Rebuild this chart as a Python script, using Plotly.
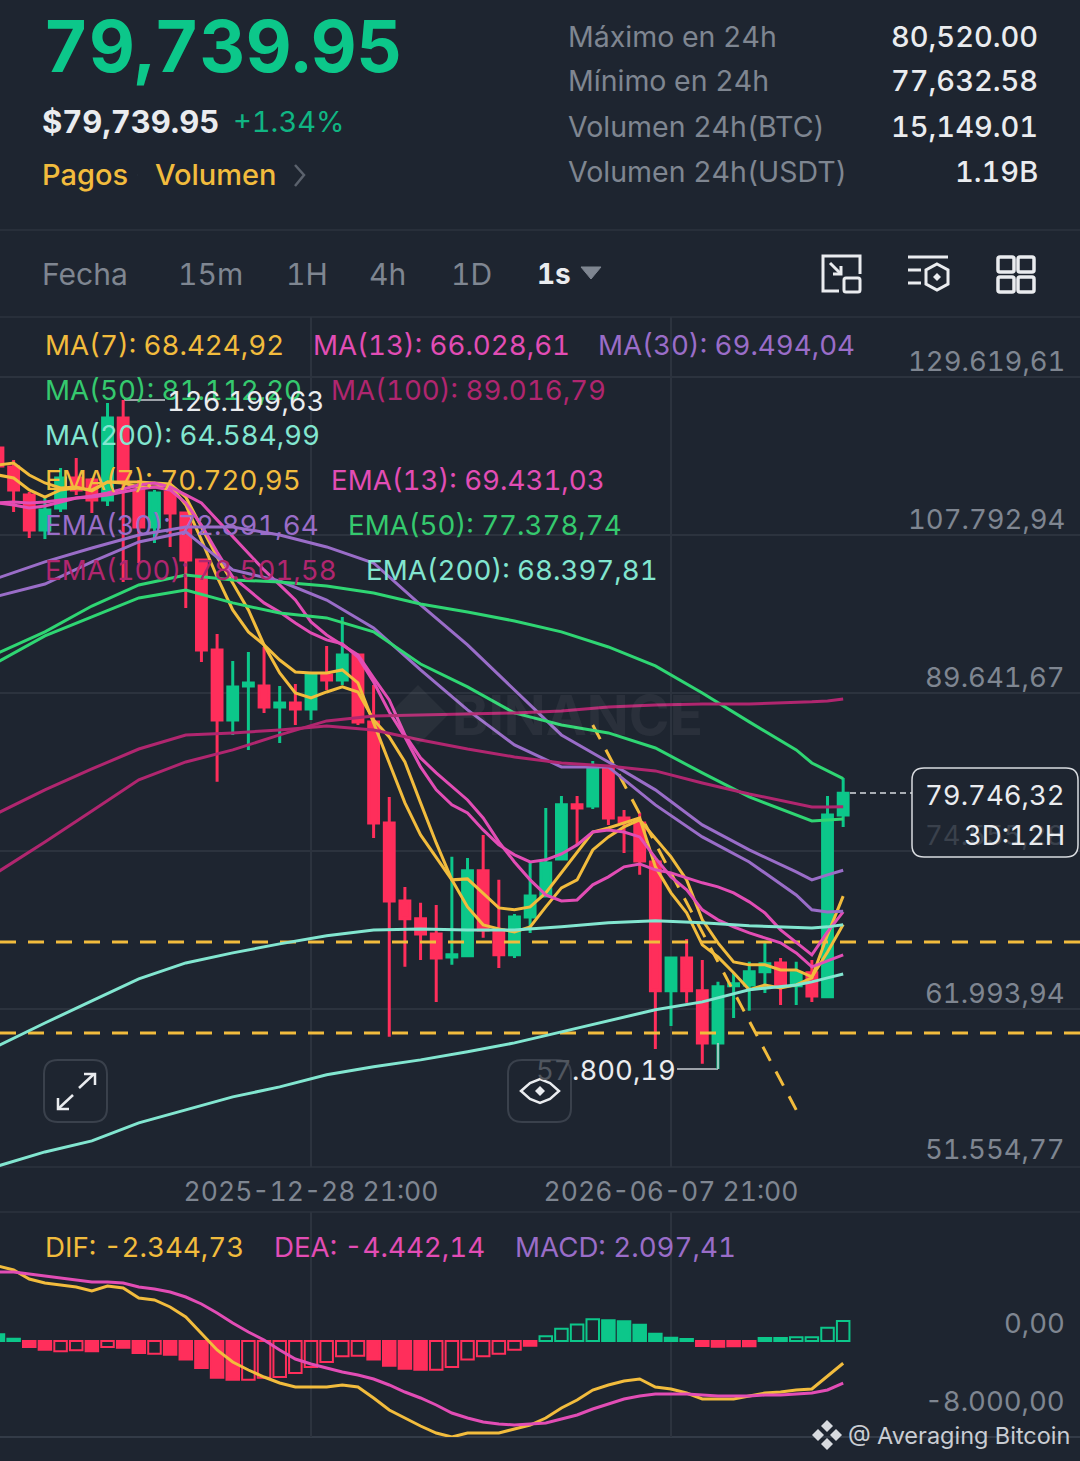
import math
import pandas as pd
import plotly.graph_objects as go

# Candle data, weekly, prices in thousands of USD
n_candles = 55
dates = pd.date_range(end="2026-08-23 21:00", periods=n_candles, freq="7D")

opens = [119.31, 116.70, 112.95, 108.43, 111.25, 115.21, 114.94, 112.29, 123.57, 113.61, 108.81, 113.35, 110.60, 104.70, 94.26,
         86.87, 90.38, 90.38, 88.20, 88.60, 87.99, 91.55, 91.02, 93.71, 86.67, 77.03, 70.33, 68.87, 67.67, 65.88,
         65.96, 72.84, 67.99, 66.04, 69.03, 70.74, 73.86, 78.67, 78.57, 82.23, 77.48, 77.03, 73.60, 63.32, 65.80,
         63.32, 59.59, 63.69, 63.76, 64.74, 65.42, 63.69, 64.67, 62.88, 77.75]
highs = [119.73, 117.66, 113.35, 112.68, 116.56, 117.93, 115.21, 125.75, 126.20, 114.94, 113.61, 114.94, 110.60, 104.70, 96.04,
         93.06, 94.04, 94.59, 90.38, 90.59, 91.77, 94.70, 97.96, 93.71, 90.49, 79.40, 71.49, 70.17, 70.00, 74.04,
         73.95, 75.96, 72.08, 69.27, 73.60, 78.39, 79.50, 79.50, 82.81, 82.42, 78.21, 77.93, 73.78, 65.80, 67.28,
         65.65, 63.99, 64.67, 65.50, 66.97, 65.80, 65.50, 65.65, 79.50, 81.18]
lows = [115.61, 110.73, 107.42, 107.30, 110.73, 112.95, 110.60, 111.51, 102.05, 104.33, 106.80, 106.30, 98.98, 92.95, 80.81,
        85.36, 83.88, 87.58, 84.57, 86.36, 86.87, 89.95, 90.49, 86.36, 75.69, 60.01, 65.12, 65.65, 62.51, 65.27,
        65.88, 67.36, 65.04, 65.80, 67.75, 70.66, 73.78, 75.08, 78.30, 76.85, 74.38, 72.50, 59.17, 60.78, 62.44,
        58.15, 57.80, 61.35, 61.86, 63.17, 62.29, 62.29, 62.51, 62.80, 76.67]
closes = [116.83, 113.61, 108.43, 110.99, 115.21, 113.61, 112.29, 123.57, 114.94, 108.81, 113.21, 110.60, 104.70, 94.26, 86.87,
          90.28, 90.70, 88.20, 88.60, 87.99, 91.55, 91.02, 93.71, 86.67, 77.03, 70.33, 68.87, 67.67, 65.80, 66.04,
          72.84, 67.99, 66.04, 69.03, 70.74, 73.52, 78.67, 78.39, 82.14, 77.48, 77.12, 73.69, 63.32, 65.80, 63.32,
          59.59, 63.62, 63.84, 64.74, 65.35, 63.69, 64.67, 62.95, 77.75, 79.746]

# Fast averages, one value per candle
ma7 = [116.97, 117.24, 115.61, 114.54, 113.88, 114.01, 113.48, 114.67, 114.67, 114.67, 114.54, 114.41, 112.68, 108.81, 105.07,
       101.92, 98.76, 94.81, 91.77, 89.64, 89.13, 89.75, 90.28, 89.75, 86.87, 85.16, 82.71, 78.85, 75.25, 72.08,
       69.84, 68.39, 68.07, 67.83, 68.23, 69.84, 71.41, 72.08, 74.64, 75.78, 76.67, 77.30, 75.69, 74.04, 72.08,
       68.79, 66.97, 65.50, 65.27, 65.27, 64.89, 64.89, 64.36, 66.26, 68.42]
ema7 = [115.61, 115.21, 113.61, 112.68, 113.61, 113.88, 113.61, 114.67, 114.54, 114.01, 114.01, 114.27, 111.64, 107.17, 102.64,
        98.76, 96.27, 94.81, 93.16, 91.87, 91.77, 91.77, 92.09, 90.70, 86.57, 82.61, 78.85, 75.96, 73.95, 72.08,
        72.16, 70.99, 69.76, 69.60, 69.84, 70.99, 72.67, 74.38, 76.22, 76.58, 77.03, 77.48, 73.18, 70.99, 69.35,
        66.81, 65.88, 64.67, 63.40, 63.76, 63.54, 63.76, 64.29, 67.60, 70.72]
ma13 = [111.90, 111.64, 111.25, 111.51, 112.03, 112.55, 112.68, 112.95, 113.35, 113.74, 114.01, 113.61, 111.90, 109.06, 105.68,
        102.64, 101.10, 99.58, 98.53, 97.28, 96.15, 95.37, 94.93, 93.49, 90.80, 87.68, 85.16, 82.23, 80.06, 78.67,
        77.93, 76.40, 75.08, 74.21, 73.60, 73.78, 74.29, 75.08, 76.22, 76.40, 76.22, 75.78, 73.95, 72.33, 71.24,
        69.60, 68.79, 68.23, 67.75, 67.36, 66.97, 66.19, 65.12, 65.57, 66.03]
ema13 = [111.90, 112.03, 111.90, 112.03, 112.29, 112.55, 112.81, 113.21, 113.74, 114.27, 114.54, 114.01, 112.95, 111.90, 109.71,
         107.55, 105.56, 103.49, 101.69, 99.92, 97.39, 95.92, 94.81, 93.71, 91.23, 88.92, 85.36, 83.10, 81.66, 80.34,
         79.12, 77.48, 75.34, 73.60, 72.08, 70.82, 70.33, 70.41, 71.66, 72.33, 73.18, 73.43, 72.93, 72.67, 72.25,
         71.83, 71.49, 70.99, 70.25, 69.35, 67.99, 66.97, 66.04, 67.83, 69.43]

# Slow averages, read every third candle and then the last few
slow_idx = [0, 3, 6, 9, 12, 15, 18, 21, 24, 27, 30, 33, 36, 39, 42, 45, 48, 51, 52, 53, 54]
ma30 = [100.39, 101.80, 104.46, 106.92, 108.18, 103.49, 102.16, 99.92, 96.72, 92.09, 87.89, 84.37, 82.23, 82.23, 78.67, 75.78, 73.60, 70.82, 69.60, 69.43, 69.49]
ema30 = [102.52, 104.46, 106.17, 107.80, 108.81, 108.81, 107.80, 106.30, 104.33, 99.34, 94.81, 89.95, 85.36, 82.71, 80.06, 76.85, 74.64, 72.75, 72.08, 72.50, 72.89]
ma50 = [93.93, 96.27, 99.22, 101.69, 102.88, 102.28, 102.05, 101.57, 100.74, 99.46, 98.53, 97.50, 96.27, 94.59, 92.52, 89.64, 86.67, 83.88, 82.61, 81.85, 81.11]
ema50 = [92.95, 95.81, 97.96, 100.16, 101.10, 99.58, 98.41, 97.85, 96.27, 92.73, 90.28, 87.58, 86.36, 85.56, 84.07, 81.66, 79.40, 77.75, 77.21, 77.30, 77.38]
ma100 = [72.75, 75.34, 78.12, 81.00, 82.71, 83.88, 85.36, 86.77, 87.27, 87.38, 87.48, 87.58, 87.79, 88.20, 88.40, 88.51, 88.51, 88.61, 88.72, 88.82, 89.02]
ema100 = [77.93, 80.06, 82.04, 83.97, 85.36, 85.56, 85.86, 86.26, 85.86, 84.86, 83.97, 83.20, 82.61, 82.33, 81.85, 80.71, 79.68, 78.76, 78.48, 78.48, 78.50]
ma200 = [51.62, 52.47, 53.15, 54.28, 55.11, 55.95, 56.61, 57.41, 57.95, 58.42, 58.97, 59.59, 60.36, 61.14, 61.94, 62.51, 63.40, 63.76, 63.99, 64.29, 64.58]
ema200 = [59.38, 60.99, 62.58, 64.21, 65.42, 66.19, 66.89, 67.52, 67.99, 68.07, 67.99, 67.99, 68.23, 68.55, 68.71, 68.55, 68.31, 68.23, 68.15, 68.23, 68.40]

# Hand drawn lines on the chart
support_levels = [67.04, 60.29]
trend_idx = [38, 51]
trend_prices = [86.36, 55.11]

# MACD panel
macd_hist = [700, 250, -630, -910, -1090, -980, -1090, -630, -700, -1260, -1330, -1440, -1960, -2840, -3860,
             -4070, -4070, -3860, -3790, -3370, -2740, -2210, -1610, -1540, -1960, -2600, -2910, -3020, -3020, -2740,
             -1960, -1610, -1330, -910, -490, 490, 1300, 1750, 2280, 2180, 2070, 1720, 770, 350, 210,
             -520, -600, -560, -560, 320, 320, 400, 400, 1400, 2097]
hist_hollow = [4, 5, 7, 10, 16, 17, 18, 19, 20, 21, 22, 23, 28, 29, 30, 31, 32, 33, 35, 36, 37, 38, 51, 52, 53, 54]
dif = [7895, 7473, 6526, 6105, 5895, 5684, 5263, 5789, 5579, 4526, 4316, 3579, 2526, 842, -947,
       -2210, -3053, -3789, -4421, -4842, -4842, -4842, -4631, -4842, -6000, -7263, -8105, -8947, -9684, -10105,
       -9684, -9684, -9684, -9263, -8842, -8105, -7052, -6210, -5158, -4631, -4210, -4000, -4842, -5052, -5474,
       -6105, -6105, -6105, -5789, -5474, -5368, -5158, -5052, -3684, -2345]
dea = [7263, 7263, 7052, 6842, 6631, 6421, 6210, 6210, 6105, 5684, 5474, 5158, 4631, 3895, 2947,
       1895, 947, 105, -947, -1895, -2421, -2842, -3263, -3579, -4000, -4631, -5368, -6000, -6737, -7579,
       -8105, -8526, -8737, -8842, -8737, -8631, -8210, -7789, -7158, -6631, -6105, -5789, -5579, -5579, -5579,
       -5684, -5789, -5789, -5789, -5684, -5684, -5579, -5474, -5158, -4442]

price_ticks = [129.61961, 107.79294, 89.64167, 74.555, 61.99394, 51.55477]
price_labels = ["129.619,61", "107.792,94", "89.641,67", None, "61.993,94", "51.554,77"]
date_ticks = [pd.Timestamp("2025-12-28 21:00"), pd.Timestamp("2026-06-07 21:00")]
date_labels = ["2025-12-28 21:00", "2026-06-07 21:00"]

# Colours
BG = "#1E2530"
GRID = "#2C333E"
GRAY = "#7F8691"
WHITE = "#EAECEF"
GREEN = "#0CC78A"
RED = "#FF2E5B"
YELLOW = "#F2BC3D"
PINK = "#E24DB5"
PURPLE = "#9A6DC8"
LIME = "#2FD673"
WINE = "#B0266F"
AQUA = "#82E6D0"
FONT = "Inter"
TNUM = "<span style=\"font-feature-settings:'tnum'\">%s</span>"

W, H = 1080, 1461


def fx(x):
    return x / W


def fy(y):
    return 1 - y / H


annotations = []
shapes = []


def text(x, y, s, color, size, anchor="left", weight=400):
    # annotations carry a little padding, pull them back onto the measured edge
    x = x - 2.5 if anchor == "left" else x + 2
    annotations.append(dict(x=fx(x), y=fy(y), xref="paper", yref="paper", text=TNUM % s, showarrow=False,
                            xanchor=anchor, yanchor="middle", font=dict(family=FONT, size=size, color=color, weight=weight)))


def hline(x0, x1, y, color=GRID, width=1.5, dash=None):
    shapes.append(dict(type="line", xref="paper", yref="paper", x0=fx(x0), x1=fx(x1), y0=fy(y), y1=fy(y),
                       line=dict(color=color, width=width, dash=dash), layer="below"))


def stroke(points, color=WHITE, width=3, close=False, fill=None):
    p = "M " + " L ".join(f"{fx(a):.5f} {fy(b):.5f}" for a, b in points)
    if close:
        p += " Z"
    shapes.append(dict(type="path", xref="paper", yref="paper", path=p, line=dict(color=color, width=width),
                       fillcolor=fill))


def rrect(x0, y0, x1, y1, r, color=WHITE, width=3, fill=None, layer="above"):
    def c(a, b):
        return f"{fx(a):.5f} {fy(b):.5f}"
    p = (f"M {c(x0 + r, y0)} L {c(x1 - r, y0)} Q {c(x1, y0)} {c(x1, y0 + r)} L {c(x1, y1 - r)} Q {c(x1, y1)} {c(x1 - r, y1)} "
         f"L {c(x0 + r, y1)} Q {c(x0, y1)} {c(x0, y1 - r)} L {c(x0, y0 + r)} Q {c(x0, y0)} {c(x0 + r, y0)} Z")
    shapes.append(dict(type="path", xref="paper", yref="paper", path=p, line=dict(color=color, width=width),
                       fillcolor=fill, layer=layer))


def diamond(cx, cy, r, color):
    shapes.append(dict(type="path", xref="paper", yref="paper", fillcolor=color, line=dict(width=0),
                       path=f"M {fx(cx - r):.5f} {fy(cy):.5f} L {fx(cx):.5f} {fy(cy - r):.5f} L {fx(cx + r):.5f} {fy(cy):.5f} L {fx(cx):.5f} {fy(cy + r):.5f} Z"))


fig = go.Figure()

fig.add_trace(go.Candlestick(x=dates, open=opens, high=highs, low=lows, close=closes,
                             increasing=dict(line=dict(color=GREEN, width=3), fillcolor=GREEN),
                             decreasing=dict(line=dict(color=RED, width=3), fillcolor=RED),
                             whiskerwidth=0, hoverinfo="skip", showlegend=False))

slow_dates = dates[slow_idx]
lines = [(dates, ma7, YELLOW), (dates, ema7, YELLOW), (dates, ma13, PINK), (dates, ema13, PINK),
         (slow_dates, ma30, PURPLE), (slow_dates, ema30, PURPLE), (slow_dates, ma50, LIME), (slow_dates, ema50, LIME),
         (slow_dates, ma100, WINE), (slow_dates, ema100, WINE), (slow_dates, ma200, AQUA), (slow_dates, ema200, AQUA)]

# x position of the left and right window edges, from the two labelled dates
px_per_day = (671 - 311) / 161
x_start = date_ticks[0] - pd.Timedelta(days=311 / px_per_day)
x_end = date_ticks[0] + pd.Timedelta(days=(W - 311) / px_per_day)

for level in support_levels:
    fig.add_trace(go.Scatter(x=[x_start, x_end], y=[level, level], mode="lines", hoverinfo="skip", showlegend=False,
                             line=dict(color=YELLOW, width=3, dash="16px,12px")))
fig.add_trace(go.Scatter(x=dates[trend_idx], y=trend_prices, mode="lines", hoverinfo="skip", showlegend=False,
                         line=dict(color=YELLOW, width=3, dash="16px,12px")))
for xs, ys, col in lines:
    fig.add_trace(go.Scatter(x=xs, y=ys, mode="lines", hoverinfo="skip", showlegend=False,
                             line=dict(color=col, width=3)))

# MACD histogram and lines
bar_colors = [GREEN if v > 0 else RED for v in macd_hist]
bar_fill = ["rgba(0,0,0,0)" if i in hist_hollow else c for i, c in enumerate(bar_colors)]
fig.add_trace(go.Bar(x=dates, y=macd_hist, xaxis="x2", yaxis="y2", hoverinfo="skip", showlegend=False,
                     marker=dict(color=bar_fill, line=dict(color=bar_colors, width=2))))
fig.add_trace(go.Scatter(x=dates, y=dif, xaxis="x2", yaxis="y2", mode="lines", hoverinfo="skip", showlegend=False,
                         line=dict(color=YELLOW, width=3)))
fig.add_trace(go.Scatter(x=dates, y=dea, xaxis="x2", yaxis="y2", mode="lines", hoverinfo="skip", showlegend=False,
                         line=dict(color=PINK, width=3)))

# Header
text(43, 46, "79,739.95", GREEN, 71, weight=700)
text(42, 122, "$79,739.95", WHITE, 31, weight=700)
text(233, 122, "+1.34%", "#10B583", 29)
text(42, 175, "Pagos", YELLOW, 29, weight=500)
text(155, 175, "Volumen", YELLOW, 29, weight=500)
hline(137, 137.5, 175, GRID)
stroke([(295, 165), (304, 175), (295, 186)], "#5B626D", 2.5)
for i, (lab, val) in enumerate([("Máximo en 24h", "80,520.00"), ("Mínimo en 24h", "77,632.58"),
                                ("Volumen 24h(BTC)", "15,149.01"), ("Volumen 24h(USDT)", "1.19B")]):
    text(568, 36 + 45 * i, lab, GRAY, 28.5)
    text(1038, 36 + 45 * i, val, WHITE, 29, anchor="right", weight=500)

# Toolbar
hline(0, W, 230)
hline(0, W, 317)
for x, lab in [(42, "Fecha"), (178, "15m"), (286, "1H"), (369, "4h"), (451, "1D")]:
    text(x, 274, lab, GRAY, 30)
text(537, 274, "1s", WHITE, 28, weight=700)
stroke([(581, 267), (601, 267), (591, 279)], GRAY, 1, close=True, fill=GRAY)
stroke([(839, 291), (823, 291), (823, 256), (860, 256), (860, 274)])
rrect(844, 278, 860, 292, 2)
stroke([(830, 263), (841, 274)])
stroke([(841, 266), (841, 274), (833, 274)])
stroke([(908, 257), (948, 257)])
stroke([(908, 270), (921, 270)])
stroke([(908, 283), (921, 283)])
stroke([(937, 264), (948, 270), (948, 284), (937, 290), (926, 284), (926, 270)], close=True)
diamond(937, 277, 4, WHITE)
for x0 in (998, 1018):
    for y0 in (257, 277):
        rrect(x0, y0, x0 + 16, y0 + 15, 2, width=3.5)

# Legend of the averages
legend_rows = [
    (345, [(45, "MA(7): 68.424,92", YELLOW), (313, "MA(13): 66.028,61", PINK), (598, "MA(30): 69.494,04", PURPLE)]),
    (390, [(45, "MA(50): 81.112,20", "#35C96E"), (331, "MA(100): 89.016,79", WINE)]),
    (435, [(45, "MA(200): 64.584,99", AQUA)]),
    (480, [(45, "EMA(7): 70.720,95", YELLOW), (331, "EMA(13): 69.431,03", PINK)]),
    (525, [(45, "EMA(30): 72.891,64", PURPLE), (348, "EMA(50): 77.378,74", "#35C96E")]),
    (570, [(45, "EMA(100): 78.501,58", WINE), (366, "EMA(200): 68.397,81", AQUA)]),
]
for y, items in legend_rows:
    for x, s, col in items:
        text(x, y, s, col, 27.7)

# Price axis labels sit just above their grid lines
for i, lab in enumerate(price_labels):
    if lab:
        text(1065, 361 + 158 * i - (2 if i == 5 else 0), lab, GRAY, 27.5, anchor="right")

# Watermark
text(452, 715, "BINANCE", "rgba(255,255,255,0.055)", 55, weight=700)
diamond(418, 715, 30, "rgba(255,255,255,0.05)")

# High and low markers
hline(124, 165, 400, "#C8CCD2", 1.5)
text(167, 401, "126.199,63", WHITE, 27.5)
hline(677, 718, 1069, "#C8CCD2", 1.5)
stroke([(718, 1069), (718, 1043)], "#C8CCD2", 1.5)
text(572, 1070, "57", "#50565F", 27.5, anchor="right")
text(572, 1070, ".800,19", WHITE, 27.5)

# Last price box
stroke([(850, 793), (912, 793)], "#D8DBDF", 1.5)
shapes[-1]["line"]["dash"] = "6px,4px"
rrect(912, 768, 1078, 857, 12, "#D8DBDF", 1.5, fill=BG)
text(1065, 795, "79.746,32", WHITE, 27.5, anchor="right")
text(1065, 835, "74.555,28", "#3A414C", 27.5, anchor="right")
text(1065, 835, "3D:12H", WHITE, 27.5, anchor="right")

# Round buttons on the chart
rrect(44, 1060, 107, 1122, 14, "#3A414C", 2)
stroke([(79, 1088), (94, 1074)], WHITE, 2.5)
stroke([(84, 1074), (95, 1074), (95, 1085)], WHITE, 2.5)
stroke([(73, 1095), (58, 1109)], WHITE, 2.5)
stroke([(58, 1098), (58, 1109), (69, 1109)], WHITE, 2.5)
rrect(508, 1060, 571, 1122, 14, "#3A414C", 2)
stroke([(521, 1091), (530, 1083), (540, 1079), (550, 1083), (559, 1091), (550, 1099), (540, 1103), (530, 1099)], WHITE, 2.5, close=True)
diamond(540, 1091, 5, WHITE)

# Axis separators
hline(0, W, 1167)
hline(0, W, 1212)
hline(0, W, 1437, "#333B47", 2)

# MACD text
text(45, 1247, "DIF: -2.344,73", YELLOW, 27.7)
text(274, 1247, "DEA: -4.442,14", PINK, 27.7)
text(515, 1247, "MACD: 2.097,41", PURPLE, 27.7)
text(1065, 1323, "0,00", GRAY, 27.5, anchor="right")
text(1065, 1401, "-8.000,00", GRAY, 27.5, anchor="right")

# Source tag
text(848, 1435, "@ Averaging Bitcoin", "#C9CDD3", 23.5)
for dx, dy in [(0, -9), (0, 9), (-9, 0), (9, 0)]:
    diamond(827 + dx, 1435 + dy, 6, "#D8DBDF")

# Price axis is logarithmic, the window runs from px 317 to 1167
price_top = price_ticks[0] * (price_ticks[0] / price_ticks[1]) ** (60 / 158)
macd_per_px = 8000 / 76

fig.update_layout(
    width=W,
    height=H,
    autosize=False,
    margin=dict(l=0, r=0, t=0, b=0),
    paper_bgcolor=BG,
    plot_bgcolor=BG,
    showlegend=False,
    boxgap=0.1,
    bargap=0.2,
    annotations=annotations,
    shapes=shapes,
    xaxis=dict(domain=[0, 1], anchor="y", range=[x_start, x_end], rangeslider=dict(visible=False), type="date",
               tickmode="array", tickvals=date_ticks, ticktext=[TNUM % d for d in date_labels],
               tickfont=dict(family=FONT, size=26.5, color=GRAY),
               ticks="outside", ticklen=1, tickcolor="rgba(0,0,0,0)", showgrid=True, gridcolor=GRID, gridwidth=1.5,
               zeroline=False, showline=False),
    yaxis=dict(domain=[fy(1167), fy(317)], anchor="x", type="log",
               range=[math.log10(price_ticks[5]), math.log10(price_top)],
               tickmode="array", tickvals=price_ticks, showticklabels=False, ticks="",
               showgrid=True, gridcolor=GRID, gridwidth=1.5, zeroline=False, showline=False),
    xaxis2=dict(domain=[0, 1], anchor="y2", matches="x", type="date", tickmode="array", tickvals=date_ticks,
                showticklabels=False, ticks="", showgrid=True, gridcolor=GRID, gridwidth=1.5, zeroline=False, showline=False),
    yaxis2=dict(domain=[fy(1437), fy(1212)], anchor="x2", range=[-96 * macd_per_px, 129 * macd_per_px],
                showticklabels=False, ticks="", showgrid=False, zeroline=False, showline=False),
)

fig.write_html("out.html", config=dict(displayModeBar=False),
               post_script="document.body.style.margin='0';document.body.style.background='" + BG + "';")
